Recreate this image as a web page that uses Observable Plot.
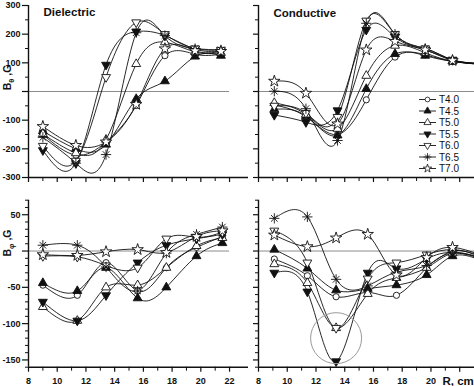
<!DOCTYPE html>
<html><head><meta charset="utf-8">
<script src="https://cdn.jsdelivr.net/npm/d3@7"></script>
<script src="https://cdn.jsdelivr.net/npm/@observablehq/plot@0.6"></script>
<style>
body{margin:0;background:#fff;}
#wrap{position:relative;width:474px;height:386px;overflow:hidden;background:#fff;}
#wrap svg{position:absolute;left:0;}
</style></head><body><div id="wrap"></div>
<script>
// ---------- data ----------
const series = ["T4.0","T4.5","T5.0","T5.5","T6.0","T6.5","T7.0"];
const panelTitles = ["Dielectric","Conductive"];
const thetaTicks = [-300,-200,-100,0,100,200,300];
const phiTicks = [-150,-100,-50,0,50];
const rTicks = [8,10,12,14,16,18,20,22];
const rLabel = "R, cm";

// radius (cm) of measurement points
const rDielTheta = [9, 11.3, 13.4, 15.5, 17.5, 19.6, 21.4];
const rCondTheta = [9.1, 11.3, 13.5, 15.5, 17.5, 19.6, 21.5, 23.4];
const rDielPhi   = [9, 11.4, 13.4, 15.6, 17.6, 19.7, 21.5];
const rCondPhi   = [9.1, 11.4, 13.4, 15.6, 17.6, 19.7, 21.5, 23.4];

// B_theta, G  — Dielectric (rows follow `series`)
const thetaDielectric = [
  [-150, -222, -176, -49, 125, 130, 130],
  [-138, -200, -185, -26, 36, 122, 125],
  [-148, -215, -168, 96, 172, 138, 135],
  [-205, -250, 93, 209, 195, 148, 140],
  [-190, -242, 50, 241, 200, 150, 145],
  [-160, -250, -220, 205, 195, 150, 145],
  [-122, -188, -176, -45, 149, 142, 140]
];
// B_theta, G — Conductive
const thetaConductive = [
  [-47, -88, -150, -29, 120, 128, 105, 95],
  [-62, -85, -153, 9, 131, 125, 105, 95],
  [-40, -80, -130, 55, 160, 135, 106, 96],
  [-82, -107, -66, 215, 190, 145, 110, 98],
  [-50, -75, -89, 247, 200, 150, 110, 98],
  [1, -60, -171, 238, 200, 150, 110, 98],
  [36, -6, -113, 145, 175, 145, 108, 97]
];
// B_phi, G — Dielectric
const phiDielectric = [
  [-47, -61, -16, -55, -23, 5, 20],
  [-44, -55, -23, -65, -50, -7, 11],
  [-77, -96, -50, -47, -23, 7, 18],
  [-70, -96, -61, -16, 8, 17, 23],
  [-7, -8, -20, -23, 17, 19, 26],
  [8, 8, -22, -55, -3, 23, 33],
  [-5, -6, -1, 2, -2, 20, 28]
];
// B_phi, G — Conductive
const phiConductive = [
  [-11, -34, -63, -57, -61, -23, -3, -10],
  [2, -24, -54, -52, -47, -33, -7, -12],
  [-18, -44, -106, -59, -37, -23, -3, -10],
  [-30, -56, -152, -30, -24, -11, -2, -8],
  [28, -16, -106, -38, -16, -5, 2, -6],
  [45, 47, -39, -48, -29, -20, 0, -8],
  [22, 6, 18, 23, -33, -9, 5, -5]
];
// highlighted region (circle) in conductive B_phi panel
const highlightR = [13.4];
const highlightB = [-120];

// ---------- styles ----------
const INK = "#111";
const markerStyle = [
  {sym: "circle", fill: "white", r: 3.1},
  {sym: "triangle", fill: INK, r: 3.3},
  {sym: "triangle", fill: "white", r: 3.3},
  {sym: "triangle", fill: INK, r: 3.3, rot: 180},
  {sym: "triangle", fill: "white", r: 3.3, rot: 180},
  {sym: "ast"},
  {sym: "star", fill: "white", r: 3.6}
];
const FONT = "'Liberation Sans', Arial, sans-serif";

function seriesMarks(rows, scale = 1) {
  const marks = [];
  series.forEach((s, i) => {
    const d = rows.filter(r => r.s === s);
    const st = markerStyle[i];
    if (st.sym === "ast") {
      marks.push(Plot.dot(d, {x: "r", y: "b", symbol: "plus", r: 3.4 * scale, stroke: INK, strokeWidth: 0.9}));
      marks.push(Plot.dot(d, {x: "r", y: "b", symbol: "times", r: 3.1 * scale, stroke: INK, strokeWidth: 0.9}));
    } else {
      marks.push(Plot.dot(d, {x: "r", y: "b", symbol: st.sym, rotate: st.rot || 0, r: st.r * scale, fill: st.fill, stroke: INK, strokeWidth: 0.9}));
    }
  });
  return marks;
}

function panel(o) {
  const rows = [];
  series.forEach((s, i) => o.vals[i].forEach((v, j) => rows.push({r: o.xs[j], b: v, s})));
  const yMin = o.yDomain[0];
  const marks = [
    o.left ? Plot.ruleY([0], {x1: 8, x2: 22, stroke: "#8c8c8c", strokeWidth: 1})
           : Plot.ruleY([0], {stroke: "#8c8c8c", strokeWidth: 1}),
    Plot.line(rows, {x: "r", y: "b", z: "s", curve: "natural", stroke: INK, strokeWidth: 0.9}),
    ...seriesMarks(rows),
    Plot.ruleX([8], {stroke: INK, strokeWidth: 1.4}),
    Plot.ruleY([yMin], {stroke: INK, strokeWidth: 1.4}),
    Plot.axisY({ticks: o.yTicks, tickSize: o.left ? 6 : 5, tickPadding: 2,
      tickFormat: o.left ? (d => d === 0 ? "" : String(d)) : (() => ""),
      label: null, fontSize: 9, fontWeight: "bold", strokeWidth: 1.2}),
    Plot.axisY({ticks: o.yMinor, tickSize: 3, tickFormat: () => "", label: null, strokeWidth: 1}),
    Plot.axisX({ticks: rTicks, tickSize: 5, tickPadding: 5,
      tickFormat: o.xLabels ? (d => (!o.left && d === 22) ? "" : String(d)) : (() => ""),
      label: null, fontSize: 9, fontWeight: "bold", strokeWidth: 1.2}),
    Plot.axisX({ticks: rTicks.slice(0, -1).map(t => t + 1), tickSize: 4, tickFormat: () => "", label: null, strokeWidth: 1})
  ];
  if (o.title) marks.push(Plot.text([o.title], {text: d => d, frameAnchor: "top-left", dx: 15, dy: o.titleDy,
    textAnchor: "start", lineAnchor: "top", fontSize: 11.5, fontWeight: "bold", fill: INK}));
  if (o.extra) marks.push(...o.extra);
  const svg = Plot.plot({
    width: 474, height: o.height,
    marginLeft: o.left ? 28 : 258, marginRight: o.left ? 226 : 0,
    marginTop: o.marginTop, marginBottom: o.marginBottom,
    x: {domain: o.left ? [8, 23.32] : [8, 23.03]},
    y: {domain: o.yDomain},
    style: {background: "transparent", fontFamily: FONT, fontSize: "9px", fontWeight: "bold", color: INK, overflow: "visible"},
    marks
  });
  svg.style.top = o.top + "px";
  document.getElementById("wrap").appendChild(svg);
  return svg;
}

const thetaMinor = [-250, -150, -50, 50, 150, 250];
const phiMinor = d3.range(-160, 71, 10).filter(v => v % 50 !== 0);

const tl = panel({left: true, xs: rDielTheta, vals: thetaDielectric, yDomain: [-300, 300], yTicks: thetaTicks, yMinor: thetaMinor,
  top: 0, height: 190, marginTop: 5, marginBottom: 13, title: panelTitles[0], titleDy: 2});
const tr = panel({left: false, xs: rCondTheta, vals: thetaConductive, yDomain: [-300, 300], yTicks: thetaTicks, yMinor: thetaMinor,
  top: 0, height: 190, marginTop: 5, marginBottom: 13, title: panelTitles[1], titleDy: 3});
const bl = panel({left: true, xs: rDielPhi, vals: phiDielectric, yDomain: [-160, 70], yTicks: phiTicks, yMinor: phiMinor,
  top: 190, height: 196, marginTop: 9.7, marginBottom: 19.3, xLabels: true});
const br = panel({left: false, xs: rCondPhi, vals: phiConductive, yDomain: [-160, 70], yTicks: phiTicks, yMinor: phiMinor,
  top: 190, height: 196, marginTop: 9.7, marginBottom: 19.3, xLabels: true,
  extra: [Plot.dot(highlightR.map((r, i) => ({r, b: highlightB[i]})), {x: "r", y: "b", r: 25.5, stroke: "#9a9a9a", fill: "none", strokeWidth: 1})]});

// y axis titles with subscripts
function yTitle(svg, cx, cy, sub) {
  const t = d3.select(svg).append("text")
    .attr("transform", `translate(${cx},${cy}) rotate(-90)`)
    .attr("text-anchor", "middle").attr("font-family", FONT).attr("font-weight", "bold")
    .attr("font-size", 10.5).attr("fill", INK);
  t.append("tspan").text("B");
  t.append("tspan").attr("font-size", 7.5).attr("dy", 2.5).text(sub);
  t.append("tspan").attr("dy", -2.5).text(" ,G");
}
yTitle(tl, 11, 77.5, "θ");
yTitle(bl, 11, 53, "φ");

// axis label R, cm
d3.select(br).append("text").attr("x", 442.5).attr("y", 195).attr("font-family", FONT).attr("text-anchor", "start")
  .attr("font-weight", "bold").attr("font-size", 11.5).attr("fill", INK).text(rLabel);

// legend
const lg = d3.select(tr).append("g").attr("text-anchor", "start");
series.forEach((s, i) => {
  const y = 99.5 + i * 11.5;
  const st = markerStyle[i];
  const g = lg.append("g");
  g.append("line").attr("x1", 419).attr("x2", 436).attr("y1", y).attr("y2", y).attr("stroke", INK).attr("stroke-width", 0.9);
  if (st.sym === "ast") {
    g.append("path").attr("d", d3.symbol(d3.symbolPlus, 22)()).attr("transform", `translate(427.5,${y})`).attr("stroke", INK).attr("fill", "none").attr("stroke-width", 0.8);
    g.append("path").attr("d", d3.symbol(d3.symbolTimes, 18)()).attr("transform", `translate(427.5,${y})`).attr("stroke", INK).attr("fill", "none").attr("stroke-width", 0.8);
  } else {
    const type = {circle: d3.symbolCircle, triangle: d3.symbolTriangle, star: d3.symbolStar}[st.sym];
    g.append("path").attr("d", d3.symbol(type, st.sym === "circle" ? 18 : 22)())
      .attr("transform", `translate(427.5,${y}) rotate(${st.rot || 0})`)
      .attr("fill", st.fill).attr("stroke", INK).attr("stroke-width", 0.8);
  }
  g.append("text").attr("x", 439).attr("y", y + 3.5).attr("font-family", FONT).attr("font-size", 10)
    .attr("font-weight", "normal").attr("fill", INK).attr("text-anchor", "start").text(s);
});
</script></body></html>
